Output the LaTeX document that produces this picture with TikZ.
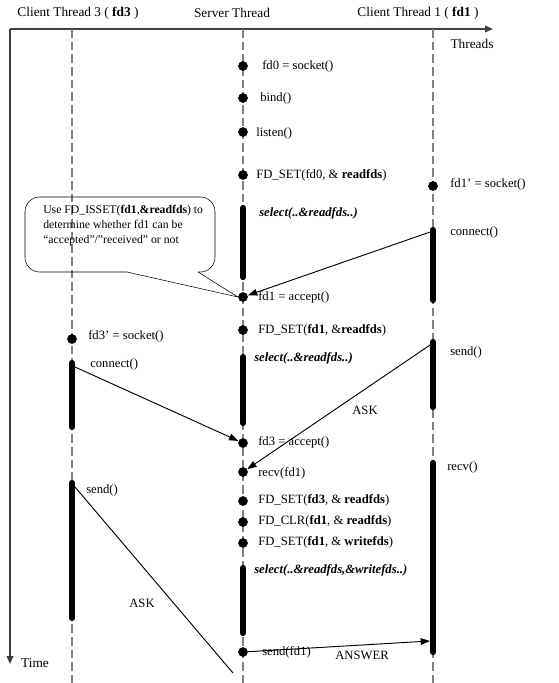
\documentclass[tikz,border=0pt]{standalone}
\usepackage{fontspec}
\setmainfont{Liberation Serif}
\usetikzlibrary{positioning,calc,arrows.meta}

\begin{document}
\begin{tikzpicture}[x=0.75pt,y=-0.75pt,
  lifeline/.style={black!50,line width=1.2pt,dash pattern=on 6.5pt off 3pt},
  axis/.style={black!75,line width=1.2pt,-{Triangle[length=6pt,width=5pt]}},
  evt/.style={circle,fill,inner sep=0pt,minimum size=7.3pt},
  actbar/.style={line width=4.7pt,line cap=round},
  msg/.style={line width=0.7pt,-{Triangle[length=7pt,width=5pt]}},
  lbl/.style={anchor=west,inner sep=0pt,font=\fontsize{9.5}{11}\selectfont},
  title/.style={inner sep=0pt,font=\fontsize{10}{12}\selectfont}]

\useasboundingbox (0,0) rectangle (559,683);

% thread titles and axes
\node[title] (tc3) at (78,13) {Client Thread 3 ( \textbf{fd3} )};
\node[title] (tsv) at (232,13) {Server Thread};
\node[title] (tc1) at (418,13) {Client Thread 1 ( \textbf{fd1} )};

\coordinate (origin) at (10,29);
\coordinate (xend) at (493,29);
\coordinate (yend) at (10,664);
\draw[axis] (origin) -- (xend);
\draw[axis] (origin) -- (yend);
\node[title] (threads) at (472,44) {Threads};
\node[title] (time) at (35,663) {Time};

% lifelines
\foreach \x in {72,243,433}
  \draw[lifeline] (\x,29) -- (\x,683);

% activation bars
\draw[actbar] (243,208) -- (243,277);
\draw[actbar] (243,357) -- (243,423);
\draw[actbar] (243,568) -- (243,633);
\draw[actbar] (433,230) -- (433,300);
\draw[actbar] (433,342) -- (433,407);
\draw[actbar] (433,463) -- (433,652);
\draw[actbar] (72,363) -- (72,427);
\draw[actbar] (72,483) -- (72,618);

% server thread
\node[evt] (sock0) at (243,66) {};
\node[evt] (bind0) at (243,98) {};
\node[evt] (listen0) at (243,132) {};
\node[evt] (set0) at (243,175) {};
\node[evt] (acc1) at (243,297) {};
\node[evt] (set1) at (243,330) {};
\node[evt] (acc3) at (243,443) {};
\node[evt] (recv1) at (243,472) {};
\node[evt] (set3) at (243,501) {};
\node[evt] (clr1) at (243,522) {};
\node[evt] (setw1) at (243,543) {};
\node[evt] (send1) at (243,652) {};

\node[lbl] at (262,66) {fd0 = socket()};
\node[lbl] at (260,98) {bind()};
\node[lbl] at (256,133) {listen()};
\node[lbl] at (256,175) {FD\_SET(fd0, \& \textbf{readfds})};
\node[lbl] at (259,213) {\textbf{\textit{select(..\&readfds..)}}};
\node[lbl] at (258,297) {fd1 = accept()};
\node[lbl] at (258,330) {FD\_SET(\textbf{fd1}, \&\textbf{readfds})};
\node[lbl] at (254,358) {\textbf{\textit{select(..\&readfds..)}}};
\node[lbl] at (258,442) {fd3 = accept()};
\node[lbl] at (258,473) {recv(fd1)};
\node[lbl] at (258,500) {FD\_SET(\textbf{fd3}, \& \textbf{readfds})};
\node[lbl] at (258,521) {FD\_CLR(\textbf{fd1}, \& \textbf{readfds})};
\node[lbl] at (258,542) {FD\_SET(\textbf{fd1}, \& \textbf{writefds})};
\node[lbl] at (254,570) {\textbf{\textit{select(..\&readfds,\&writefds..)}}};
\node[lbl] at (262,652) {send(fd1)};

% client thread 1
\node[evt] (c1sock) at (433,186) {};
\coordinate (c1conn) at (433,231);
\coordinate (c1send) at (433,343);
\coordinate (c1recv) at (430,641);
\node[lbl] at (450,184) {fd1’ = socket()};
\node[lbl] at (450,232) {connect()};
\node[lbl] at (450,352) {send()};
\node[lbl] at (447,467) {recv()};

% client thread 3
\node[evt] (c3sock) at (72,339) {};
\coordinate (c3conn) at (75,367);
\coordinate (c3send) at (75,487);
\coordinate (c3out) at (233,673);
\node[lbl] at (88,336) {fd3’ = socket()};
\node[lbl] at (90,364) {connect()};
\node[lbl] at (86,490) {send()};

% messages
\draw[msg] (c1conn) -- (acc1);
\draw[msg] (c3conn) -- (acc3);
\draw[msg] (c1send) -- (recv1);
\draw[line width=0.7pt] (c3send) -- (c3out);
\draw[msg] (send1) -- (c1recv);
\node[lbl,anchor=center] (ask1) at (365,410) {ASK};
\node[lbl,anchor=center] (ask3) at (142,603) {ASK};
\node[lbl,anchor=center] (answer) at (362,655) {ANSWER};

% note
\node[anchor=north west,inner sep=0pt,align=left,
  font=\fontsize{8.8}{11.2}\selectfont] (note) at (43,205)
  {Use FD\_ISSET(\textbf{fd1},\textbf{\&readfds}) to\\
   determine whether fd1 can be\\
   “accepted”/”received” or not};
\draw[rounded corners=11pt] (127,272) -- (25,272) -- (25,197)
  -- (215,197) -- (215,272) -- (198,272);
\draw (127,272) -- (acc1.west) -- (198,272);

\end{tikzpicture}
\end{document}
